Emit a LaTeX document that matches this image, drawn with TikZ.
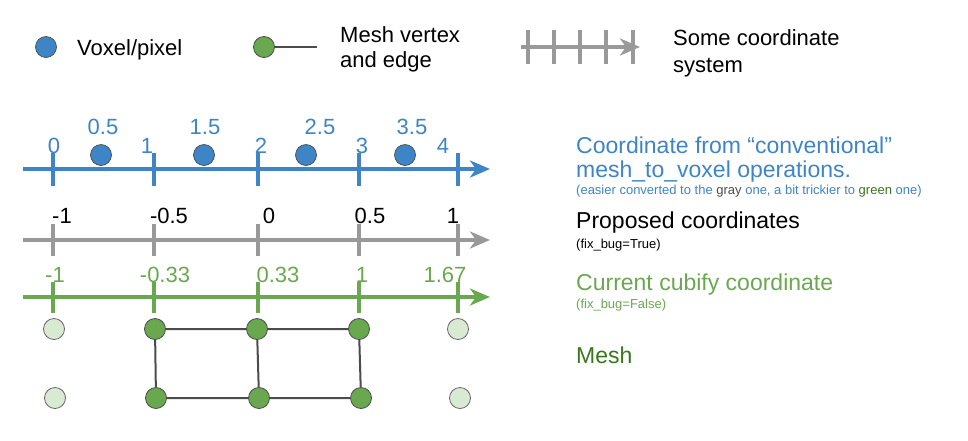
\documentclass[tikz,border=0pt]{standalone}
\usepackage{fontspec}
\setmainfont{Liberation Sans}
\usetikzlibrary{arrows.meta}
\definecolor{bl}{HTML}{3D85C6}
\definecolor{gr}{HTML}{999999}
\definecolor{gn}{HTML}{6AA84F}
\definecolor{dg}{HTML}{38761D}
\definecolor{lg}{HTML}{D9EAD3}
\begin{document}
\begin{tikzpicture}[x=1pt,y=-1pt,
 ax/.style={line width=3.5pt,-{Stealth[length=20pt,width=17pt,inset=6pt]}},
 tk/.style={line width=3.5pt},
 vox/.style={circle,fill=bl,draw=black!70,line width=0.7pt,minimum size=21pt,inner sep=0},
 mv/.style={circle,fill=gn,draw=black!70,line width=0.8pt,minimum size=21pt,inner sep=0},
 mf/.style={circle,fill=lg,draw=black!60,line width=0.8pt,minimum size=21pt,inner sep=0},
 edge/.style={draw=black!70,line width=2pt},
 lb/.style={font=\fontsize{22}{22}\selectfont,inner sep=0},
 big/.style={font=\fontsize{23}{26}\selectfont,inner sep=0,anchor=west},
 sm/.style={font=\fontsize{13}{14}\selectfont,inner sep=0,anchor=west}]
\useasboundingbox (0,0) rectangle (968,440);
% legend
\node[vox] (lv) at (46,47) {};
\node[lb,anchor=west] (lvt) at (77,50) {Voxel/pixel};
\node[mv] (lm) at (264,47) {};
\coordinate (lme) at (317,47);
\draw[edge] (lm) -- (lme);
\node[lb,anchor=west,align=left,font=\fontsize{22}{25}\selectfont] (lmt) at (340,49) {Mesh vertex\\and edge};
\coordinate (lg0) at (521,47); \coordinate (lg1) at (640,47);
\draw[ax,gr] (lg0) -- (lg1);
\foreach \x in {528,554,580,606,633} \draw[tk,gr] (\x,30) -- (\x,64);
\node[lb,anchor=west,align=left,font=\fontsize{22}{27}\selectfont] (lst) at (673,53) {Some coordinate\\system};
% blue axis
\coordinate (b0) at (23,169); \coordinate (b1) at (490,169);
\draw[ax,bl] (b0) -- (b1);
\foreach \x in {53,154,258,359,458} \draw[tk,bl] (\x,153) -- (\x,186);
\foreach \x/\n in {101/a,204/b,306/c,405/d} \node[vox] (v\n) at (\x,155) {};
\foreach \x/\t in {103/0.5,205/1.5,320/2.5,412/3.5} \node[lb,text=bl] at (\x,127) {\t};
\foreach \x/\t in {54/0,147/1,261/2,362/3,443/4} \node[lb,text=bl] at (\x,146) {\t};
% gray axis
\coordinate (g0) at (23,240); \coordinate (g1) at (490,240);
\draw[ax,gr] (g0) -- (g1);
\foreach \x in {53,154,258,359,458} \draw[tk,gr] (\x,224) -- (\x,256);
\foreach \x/\t in {62/-1,169/-0.5,269/0,370/0.5,453/1} \node[lb] at (\x,216) {\t};
% green axis
\coordinate (n0) at (23,297); \coordinate (n1) at (490,297);
\draw[ax,gn] (n0) -- (n1);
\foreach \x in {53,154,258,359,458} \draw[tk,gn] (\x,282) -- (\x,313);
\foreach \x/\t in {55/-1,165/-0.33,278/0.33,362/1,445/1.67} \node[lb,text=gn] at (\x,275) {\t};
% mesh
\node[mf] (f1) at (54,329) {};
\node[mf] (f2) at (458,329) {};
\node[mf] (f3) at (55,398) {};
\node[mf] (f4) at (460,398) {};
\node[mv] (m1) at (155,329) {};
\node[mv] (m2) at (257,329) {};
\node[mv] (m3) at (359,329) {};
\node[mv] (m4) at (156,398) {};
\node[mv] (m5) at (259,398) {};
\node[mv] (m6) at (361,398) {};
\draw[edge] (m1)--(m2) (m2)--(m3) (m4)--(m5) (m5)--(m6) (m1)--(m4) (m2)--(m5) (m3)--(m6);
% right texts
\node[big,text=bl] (t1) at (576,145) {Coordinate from “conventional”};
\node[big,text=bl] (t2) at (576,172) {mesh\_to\_voxel operations.};
\node[sm,text=bl] (t3) at (576,191) {(easier converted to the \textcolor{black!70}{gray} one, a bit trickier to \textcolor{dg}{green} one)};
\node[big] (t4) at (576,223) {Proposed coordinates};
\node[sm] (t5) at (576,245) {(fix\_bug=True)};
\node[big,text=gn] (t6) at (576,285) {Current cubify coordinate};
\node[sm,text=gn] (t7) at (576,305) {(fix\_bug=False)};
\node[big,text=dg] (t8) at (576,355) {Mesh};
\end{tikzpicture}
\end{document}
